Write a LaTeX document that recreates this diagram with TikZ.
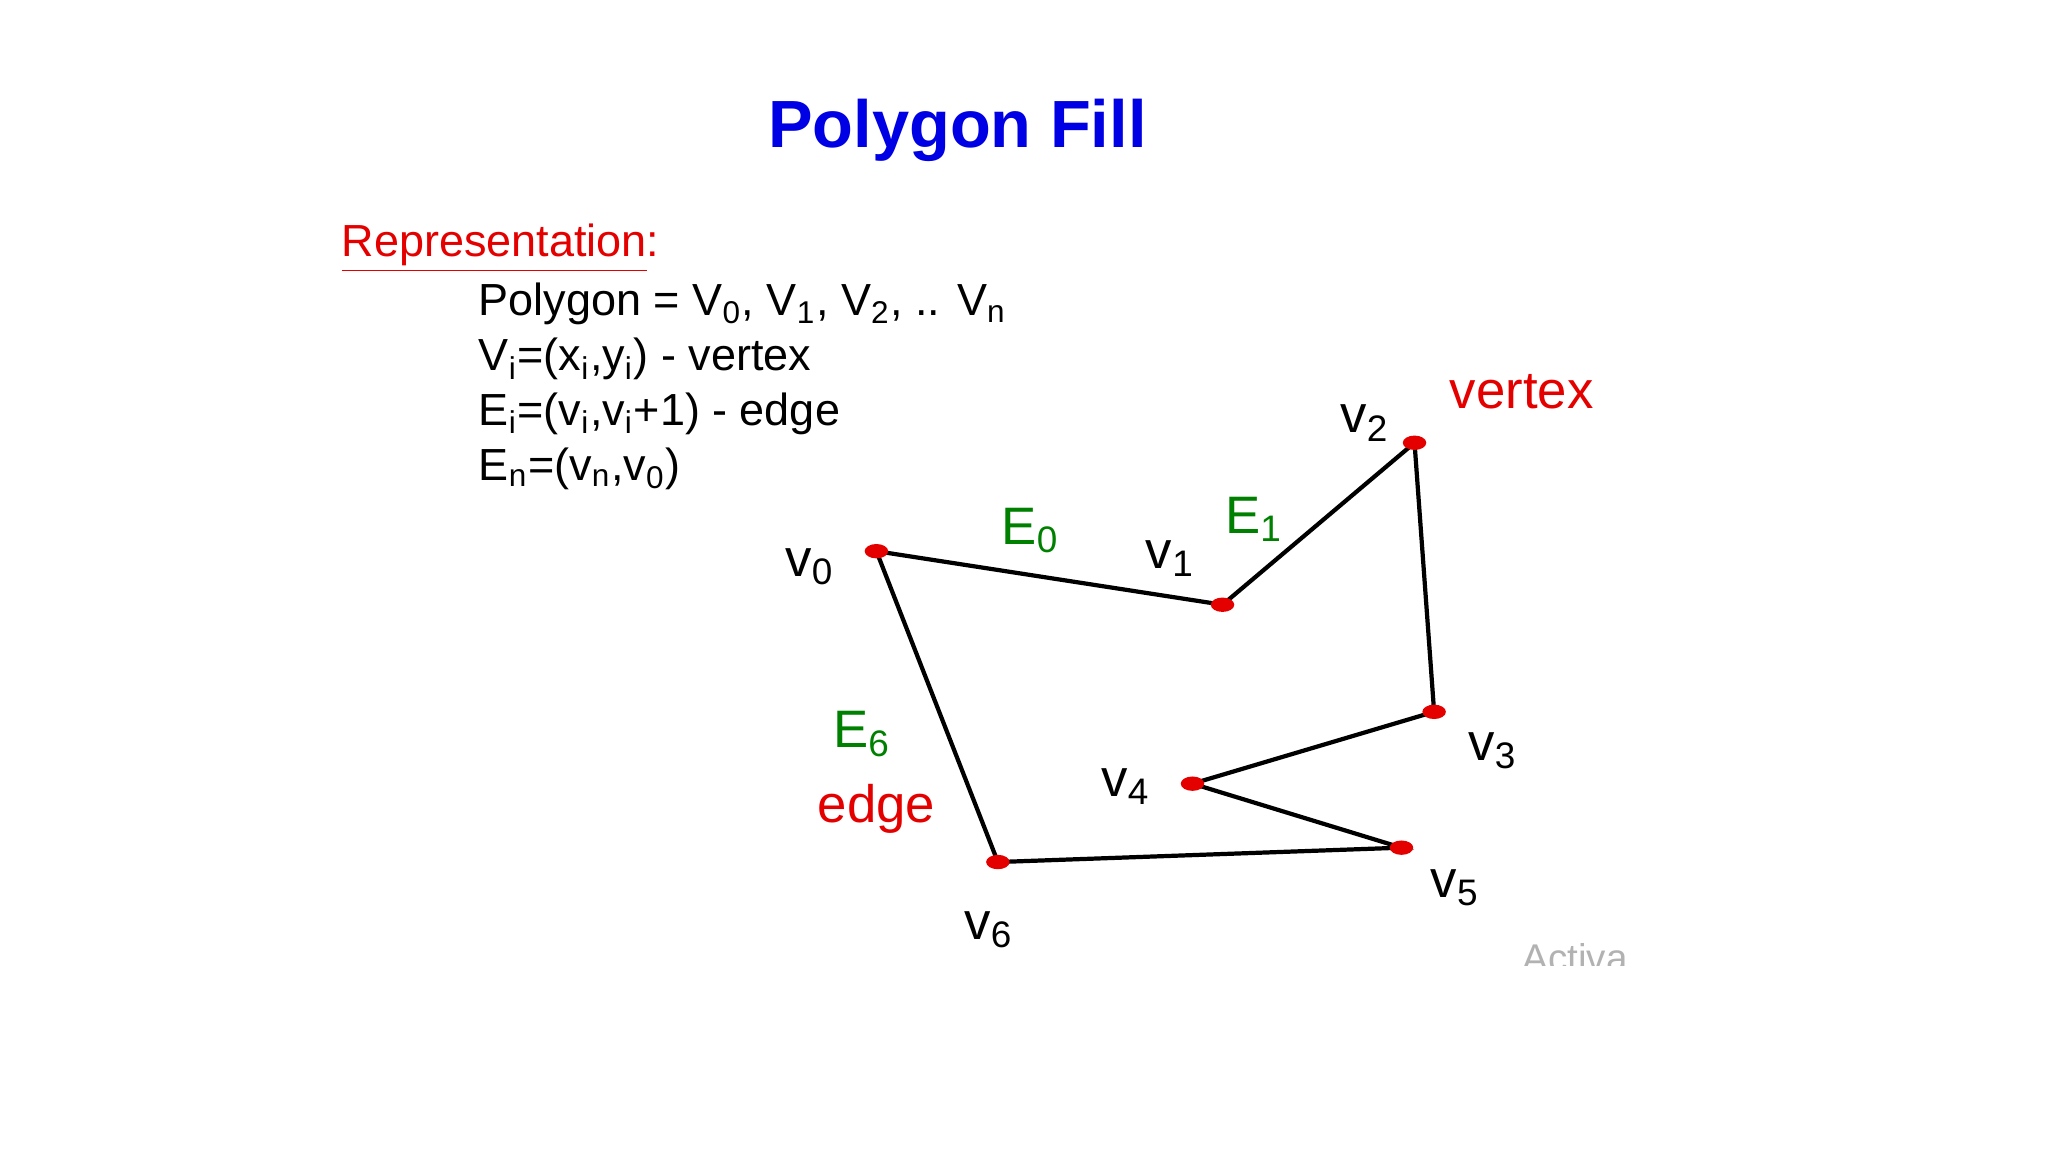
\documentclass[tikz,border=0pt]{standalone}
\usepackage{fontspec}
\setmainfont{Liberation Sans}
\newcommand{\sbs}[1]{\textsubscript{#1}}
\begin{document}
\begin{tikzpicture}[x=0.013061cm,y=-0.013061cm,
  lab/.style={font=\fontsize{15}{17}\selectfont,inner sep=0pt},
  elab/.style={lab,text=green!50!black},
  rlab/.style={lab,text=red!90!black},
  body/.style={font=\fontsize{12.8}{15}\selectfont,anchor=west,inner sep=0pt}]
\useasboundingbox (0,0) rectangle (1568,882);
\node[font=\fontsize{19}{22}\selectfont\bfseries,text=blue!90!black] (title) at (733,100) {Polygon Fill};
\node[body,text=red!90!black] (rep) at (261,190) {\underline{Representation}:};
\node[body] (l1) at (366,233) {Polygon = V\sbs{0}, V\sbs{1}, V\sbs{2}, .. V\sbs{n}};
\node[body] (l2) at (366,275) {V\sbs{i}=(x\sbs{i},y\sbs{i}) - vertex};
\node[body] (l3) at (366,317) {E\sbs{i}=(v\sbs{i},v\sbs{i}+1) - edge};
\node[body] (l4) at (366,359) {E\sbs{n}=(v\sbs{n},v\sbs{0})};
\coordinate (v0) at (671,422);
\coordinate (v1) at (936,463);
\coordinate (v2) at (1083,339);
\coordinate (v3) at (1098,545);
\coordinate (v4) at (913,600);
\coordinate (v5) at (1073,649);
\coordinate (v6) at (764,660);
\draw[line width=1.2pt] (v0)--(v1)--(v2)--(v3)--(v4)--(v5)--(v6)--cycle;
\foreach \v in {v0,v1,v2,v3,v4,v5,v6}
  \fill[red!90!black] (\v) ellipse [x radius=9,y radius=5.5];
\node[lab] (t0) at (620,434) {v\sbs{0}};
\node[lab] (t1) at (896,428) {v\sbs{1}};
\node[lab] (t2) at (1045,324) {v\sbs{2}};
\node[lab] (t3) at (1143,575) {v\sbs{3}};
\node[lab] (t4) at (862,602) {v\sbs{4}};
\node[lab] (t5) at (1114,680) {v\sbs{5}};
\node[lab] (t6) at (757,712) {v\sbs{6}};
\node[elab] (e0) at (789,406) {E\sbs{0}};
\node[elab] (e1) at (960,398) {E\sbs{1}};
\node[elab] (e6) at (660,562) {E\sbs{6}};
\node[rlab] (edge) at (671,619) {edge};
\node[rlab] (vtx) at (1165,300) {vertex};
\begin{scope}
\clip (1150,715) rectangle (1250,739);
\node[font=\fontsize{11}{13}\selectfont,text=black!30,anchor=west,inner sep=0pt] (act) at (1165,733) {Activa};
\end{scope}
\end{tikzpicture}
\end{document}
